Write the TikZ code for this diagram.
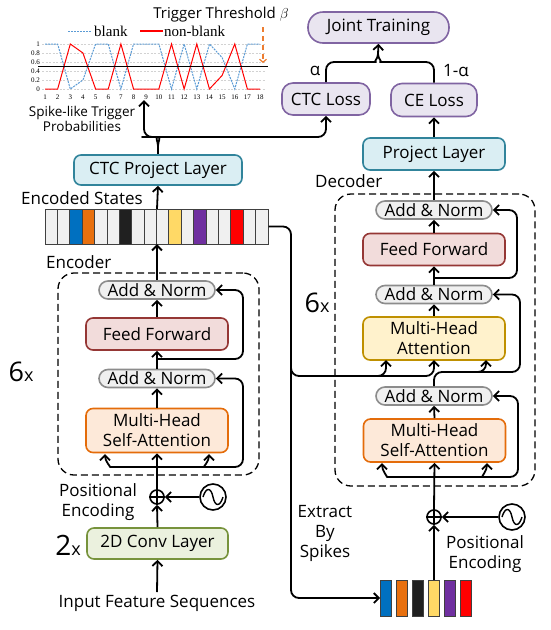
\documentclass[tikz,border=0pt]{standalone}
\usepackage{fontspec}
\setmainfont{Open Sans}
\newfontfamily\serifchart{Liberation Serif}
\usetikzlibrary{arrows.meta}
\definecolor{tealB}{HTML}{31849B}
\definecolor{tealF}{HTML}{DAEEF3}
\definecolor{purB}{HTML}{8064A2}
\definecolor{purF}{HTML}{E9E5F0}
\definecolor{redB}{HTML}{953735}
\definecolor{redF}{HTML}{F2DCDB}
\definecolor{orB}{HTML}{E46C0A}
\definecolor{orF}{HTML}{FDE9D9}
\definecolor{yeB}{HTML}{BF9000}
\definecolor{yeF}{HTML}{FFF2CC}
\definecolor{grB}{HTML}{77933C}
\definecolor{grF}{HTML}{EBF1DE}
\definecolor{anB}{HTML}{8C8C8C}
\definecolor{anF}{HTML}{F0F0F0}
\definecolor{cellF}{HTML}{F0F0F0}
\definecolor{cBlue}{HTML}{0070C0}
\definecolor{cOrange}{HTML}{E8700F}
\definecolor{cBlack}{HTML}{202020}
\definecolor{cYellow}{HTML}{FFD966}
\definecolor{cPurple}{HTML}{7030A0}
\definecolor{cRed}{HTML}{FF0000}
\definecolor{lineBlue}{HTML}{5B9BD5}
\definecolor{thrOr}{HTML}{ED7D31}
\begin{document}
\begin{tikzpicture}[x=1pt,y=-1pt,
  >={Straight Barb[length=5pt,width=10pt]},
  conn/.style={line width=1.8pt, line join=round, rounded corners=8pt},
  arr/.style={conn,->},
  blk/.style={draw, line width=1.6pt, rounded corners=7pt, inner sep=0pt, align=center, font=\fontsize{17}{20}\selectfont},
  anorm/.style={blk, draw=anB, fill=anF, rounded corners=9pt, minimum width=116pt, minimum height=18pt},
  teal/.style={blk, draw=tealB, fill=tealF},
  purp/.style={blk, draw=purB, fill=purF, rounded corners=11pt},
  ffwd/.style={blk, draw=redB, fill=redF, minimum width=142pt, minimum height=32pt},
  mhsa/.style={blk, draw=orB, fill=orF, minimum width=142pt, minimum height=44pt},
  dbox/.style={draw, line width=1.3pt, dash pattern=on 7pt off 4pt, rounded corners=16pt, inner sep=0pt},
  lbl/.style={inner sep=0pt, align=center, font=\fontsize{17}{20}\selectfont},
  cell/.style={draw=black!75, line width=0.9pt, minimum width=12.39pt, minimum height=35pt, inner sep=0pt},
  spk/.style={draw=black!75, line width=0.9pt, minimum width=11pt, minimum height=36pt, inner sep=0pt},
  tick/.style={inner sep=0pt, font=\serifchart\fontsize{7}{8}\selectfont},
  grid/.style={gray!35, line width=0.5pt, dash pattern=on 2pt off 1.5pt},
  circ/.style={draw, circle, line width=1.6pt, inner sep=0pt},
  big/.style={inner sep=0pt}
]
\useasboundingbox (0,0) rectangle (550,630);

% ---------------- chart ----------------
\foreach \yy in {44,53,62,71,80,89} \draw[grid] (42,\yy) -- (266,\yy);
\foreach \yy/\t [count=\k] in {44/1,53/0.8,62/0.6,71/0.4,80/0.2,89/0}
  \node[tick, anchor=east] (yt\k) at (40,\yy) {\t};
\foreach \i in {1,...,18}
  \node[tick] (xt\i) at ({45+(\i-1)*12.65},97) {\i};
\draw[lineBlue, line width=1pt, dash pattern=on 2pt off 1pt] plot coordinates {(45,44)(57.65,44)(70.3,89)(82.95,80)(95.6,44)(108.25,44)(120.9,89)(133.55,44)(146.2,44)(158.85,44)(171.5,89)(184.15,44)(196.8,89)(209.45,44)(222.1,57.5)(234.75,89)(247.4,44)(260.05,44)};
\draw[cRed, line width=1pt] plot coordinates {(45,89)(57.65,89)(70.3,44)(82.95,53)(95.6,89)(108.25,89)(120.9,44)(133.55,89)(146.2,89)(158.85,89)(171.5,44)(184.15,89)(196.8,44)(209.45,89)(222.1,75.5)(234.75,44)(247.4,89)(260.05,89)};
\draw[black, line width=1.6pt] (38,66.5) -- (268,66.5);
% legend
\draw[lineBlue, line width=1pt, dash pattern=on 2pt off 1pt] (68,31) -- (92,31);
\node[inner sep=0pt, anchor=west, font=\serifchart\fontsize{15}{16}\selectfont] (lgb) at (94,31) {blank};
\draw[cRed, line width=1.1pt] (140,31) -- (163,31);
\node[inner sep=0pt, anchor=west, font=\serifchart\fontsize{15}{16}\selectfont] (lgn) at (164,31) {non-blank};
\node[inner sep=0pt, font=\fontsize{15}{18}\selectfont] (thr) at (221,15) {Trigger Threshold $\beta$};
\draw[thrOr, line width=1.2pt, dash pattern=on 5pt off 4pt, -{Straight Barb[length=3pt,width=7pt]}] (263,27) -- (263,63);
\node[inner sep=0pt, align=center, font=\fontsize{13.5}{15}\selectfont] (spl) at (82,119) {Spike-like Trigger\\Probabilities};
\coordinate (chartin) at (144,100);

% ---------------- top ----------------
\node[purp, minimum width=141pt, minimum height=31pt, rounded corners=15pt] (joint) at (378.5,27.5) {Joint Training};
\node[purp, minimum width=88pt, minimum height=32pt] (ctcloss) at (326,99) {CTC Loss};
\node[purp, minimum width=86pt, minimum height=33pt] (celoss) at (434,100) {CE Loss};
\node[teal, minimum width=142pt, minimum height=32pt] (proj) at (434,154) {Project Layer};
\node[teal, minimum width=168pt, minimum height=30pt] (ctcproj) at (158,170) {CTC Project Layer};
\node[lbl] (alpha) at (315,71) {α};
\node[lbl] (malpha) at (456,71) {1-α};
\coordinate (jm) at (378,54);
\draw[conn] (ctcloss.north) |- (368,62) to[out=0,in=-90] (jm);
\draw[conn] (celoss.north) |- (388,62) to[out=180,in=-90] (jm);
\draw[arr] (jm) -- (joint.south);
\draw[arr] (proj.north) -- (celoss.south);
\coordinate (cf) at (158,146);
\draw[conn] (ctcproj.north) -- (cf);
\draw[arr] (cf) to[out=90,in=0] (150,137) -| (chartin);
\draw[arr] (cf) to[out=90,in=180] (166,137) -| (ctcloss.south);

% ---------------- encoded states ----------------
\node[lbl, anchor=west] (encst) at (21,198) {Encoded States};
\foreach \c [count=\i] in {cellF,cellF,cBlue,cOrange,cellF,cellF,cBlack,cellF,cellF,cellF,cYellow,cellF,cPurple,cellF,cellF,cRed,cellF,cellF}
  \node[cell, fill=\c] (c\i) at ({45+(\i-0.5)*12.39},226.5) {};
\node[inner sep=0pt, minimum width=223pt, minimum height=35pt] (states) at (157,226.5) {};
\draw[arr] (states.north) -- (ctcproj.south);
\node[lbl, anchor=west] (enclbl) at (46,262) {Encoder};

% ---------------- encoder ----------------
\node[dbox, minimum width=201pt, minimum height=202pt] (encbox) at (158.5,374) {};
\node[anorm] (eAN2) at (157,290) {Add \& Norm};
\node[ffwd] (eFF) at (157,334) {Feed Forward};
\node[anorm] (eAN1) at (157,378.5) {Add \& Norm};
\node[mhsa] (eMH) at (157,430.5) {Multi-Head\\Self-Attention};
\node[big] (six1) at (21,372) {\fontsize{27}{27}\selectfont 6\fontsize{18}{18}\selectfont x};
\draw[arr] (eAN2.north) -- (states.south);
\draw[arr] (eFF.north) -- (eAN2.south);
\draw[arr] (eAN1.north) -- (eFF.south);
\draw[arr] (eMH.north) -- (eAN1.south);
\draw[arr] (157,359) -| (243,290) -- (eAN2.east);
\draw[arr] (157,467) -| (243,378.5) -- (eAN1.east);
\draw[arr] (157,467) -- (118,467) to[out=180,in=-90] (105,454);
\draw[arr] (157,467) -- (196,467) to[out=0,in=-90] (209,454);
\node[circ, minimum size=14pt] (eplus) at (157,497) {};
\draw[line width=1.6pt] (eplus.north) -- (eplus.south) (eplus.west) -- (eplus.east);
\node[circ, minimum size=26pt] (esine) at (213,497) {};
\draw[line width=1.4pt] (203,497) .. controls (206,487) and (211,487) .. (213,497) .. controls (215,507) and (220,507) .. (223,497);
\draw[arr] (eplus.north) -- (eMH.south);
\draw[arr] (esine.west) -- (eplus.east);
\node[lbl] (epos) at (98,502) {Positional\\Encoding};
\node[blk, draw=grB, fill=grF, minimum width=141pt, minimum height=31pt] (conv) at (157.5,543.5) {2D Conv Layer};
\node[big] (two) at (68,545) {\fontsize{28}{28}\selectfont 2\fontsize{18}{18}\selectfont x};
\draw[arr] (conv.north) -- (eplus.south);
\node[lbl] (inp) at (157,603) {Input Feature Sequences};
\draw[arr] (157,592) -- (conv.south);

% ---------------- decoder ----------------
\node[lbl, anchor=west] (declbl) at (315,181) {Decoder};
\node[dbox, minimum width=200pt, minimum height=292pt] (decbox) at (435,340) {};
\node[anorm] (dAN3) at (434,210) {Add \& Norm};
\node[ffwd] (dFF) at (434,249.5) {Feed Forward};
\node[anorm] (dAN2) at (434,294.5) {Add \& Norm};
\node[blk, draw=yeB, fill=yeF, minimum width=142pt, minimum height=43pt] (dMHA) at (434,338.5) {Multi-Head\\Attention};
\node[anorm] (dAN1) at (434,396) {Add \& Norm};
\node[mhsa, minimum height=43pt] (dMH) at (434.5,440.5) {Multi-Head\\Self-Attention};
\node[big] (six2) at (317,303) {\fontsize{27}{27}\selectfont 6\fontsize{18}{18}\selectfont x};
\draw[arr] (dAN3.north) -- (proj.south);
\draw[arr] (dFF.north) -- (dAN3.south);
\draw[arr] (dAN2.north) -- (dFF.south);
\draw[arr] (dMHA.north) -- (dAN2.south);
\draw[arr] (dMH.north) -- (dAN1.south);
\draw[arr] (434,278) -| (517,210) -- (dAN3.east);
\draw[arr] (dAN1.north) |- (486,372) -- (486,360);
\draw[arr] (470,372) -| (520,294.5) -- (dAN2.east);
\draw[arr] (434,477) -| (518,396) -- (dAN1.east);
\draw[arr] (434,477) -- (395,477) to[out=180,in=-90] (382,463);
\draw[arr] (434,477) -- (474,477) to[out=0,in=-90] (487,463);
\node[circ, minimum size=14pt] (dplus) at (434,517) {};
\draw[line width=1.6pt] (dplus.north) -- (dplus.south) (dplus.west) -- (dplus.east);
\node[circ, minimum size=26pt] (dsine) at (512,517) {};
\draw[line width=1.4pt] (502,517) .. controls (505,507) and (510,507) .. (512,517) .. controls (514,527) and (519,527) .. (522,517);
\draw[arr] (dplus.north) -- (dMH.south);
\draw[arr] (dsine.west) -- (dplus.east);
\node[lbl] (dpos) at (485,554) {Positional\\Encoding};
\node[lbl] (extr) at (325,533) {Extract\\By\\Spikes};
\foreach \c [count=\i] in {cBlue,cOrange,cBlack,cYellow,cPurple,cRed}
  \node[spk, fill=\c] (s\i) at ({370+16*\i},598) {};
\draw[arr] (s4.north) -- (dplus.south);

% encoder -> decoder / spikes
\draw[arr] (states.east) -| (291,598) -- (s1.west);
\draw[arr] (291,340) |- (386,376) -- (386,360);
\draw[arr] (370,376) -| (434,360);
\end{tikzpicture}
\end{document}
